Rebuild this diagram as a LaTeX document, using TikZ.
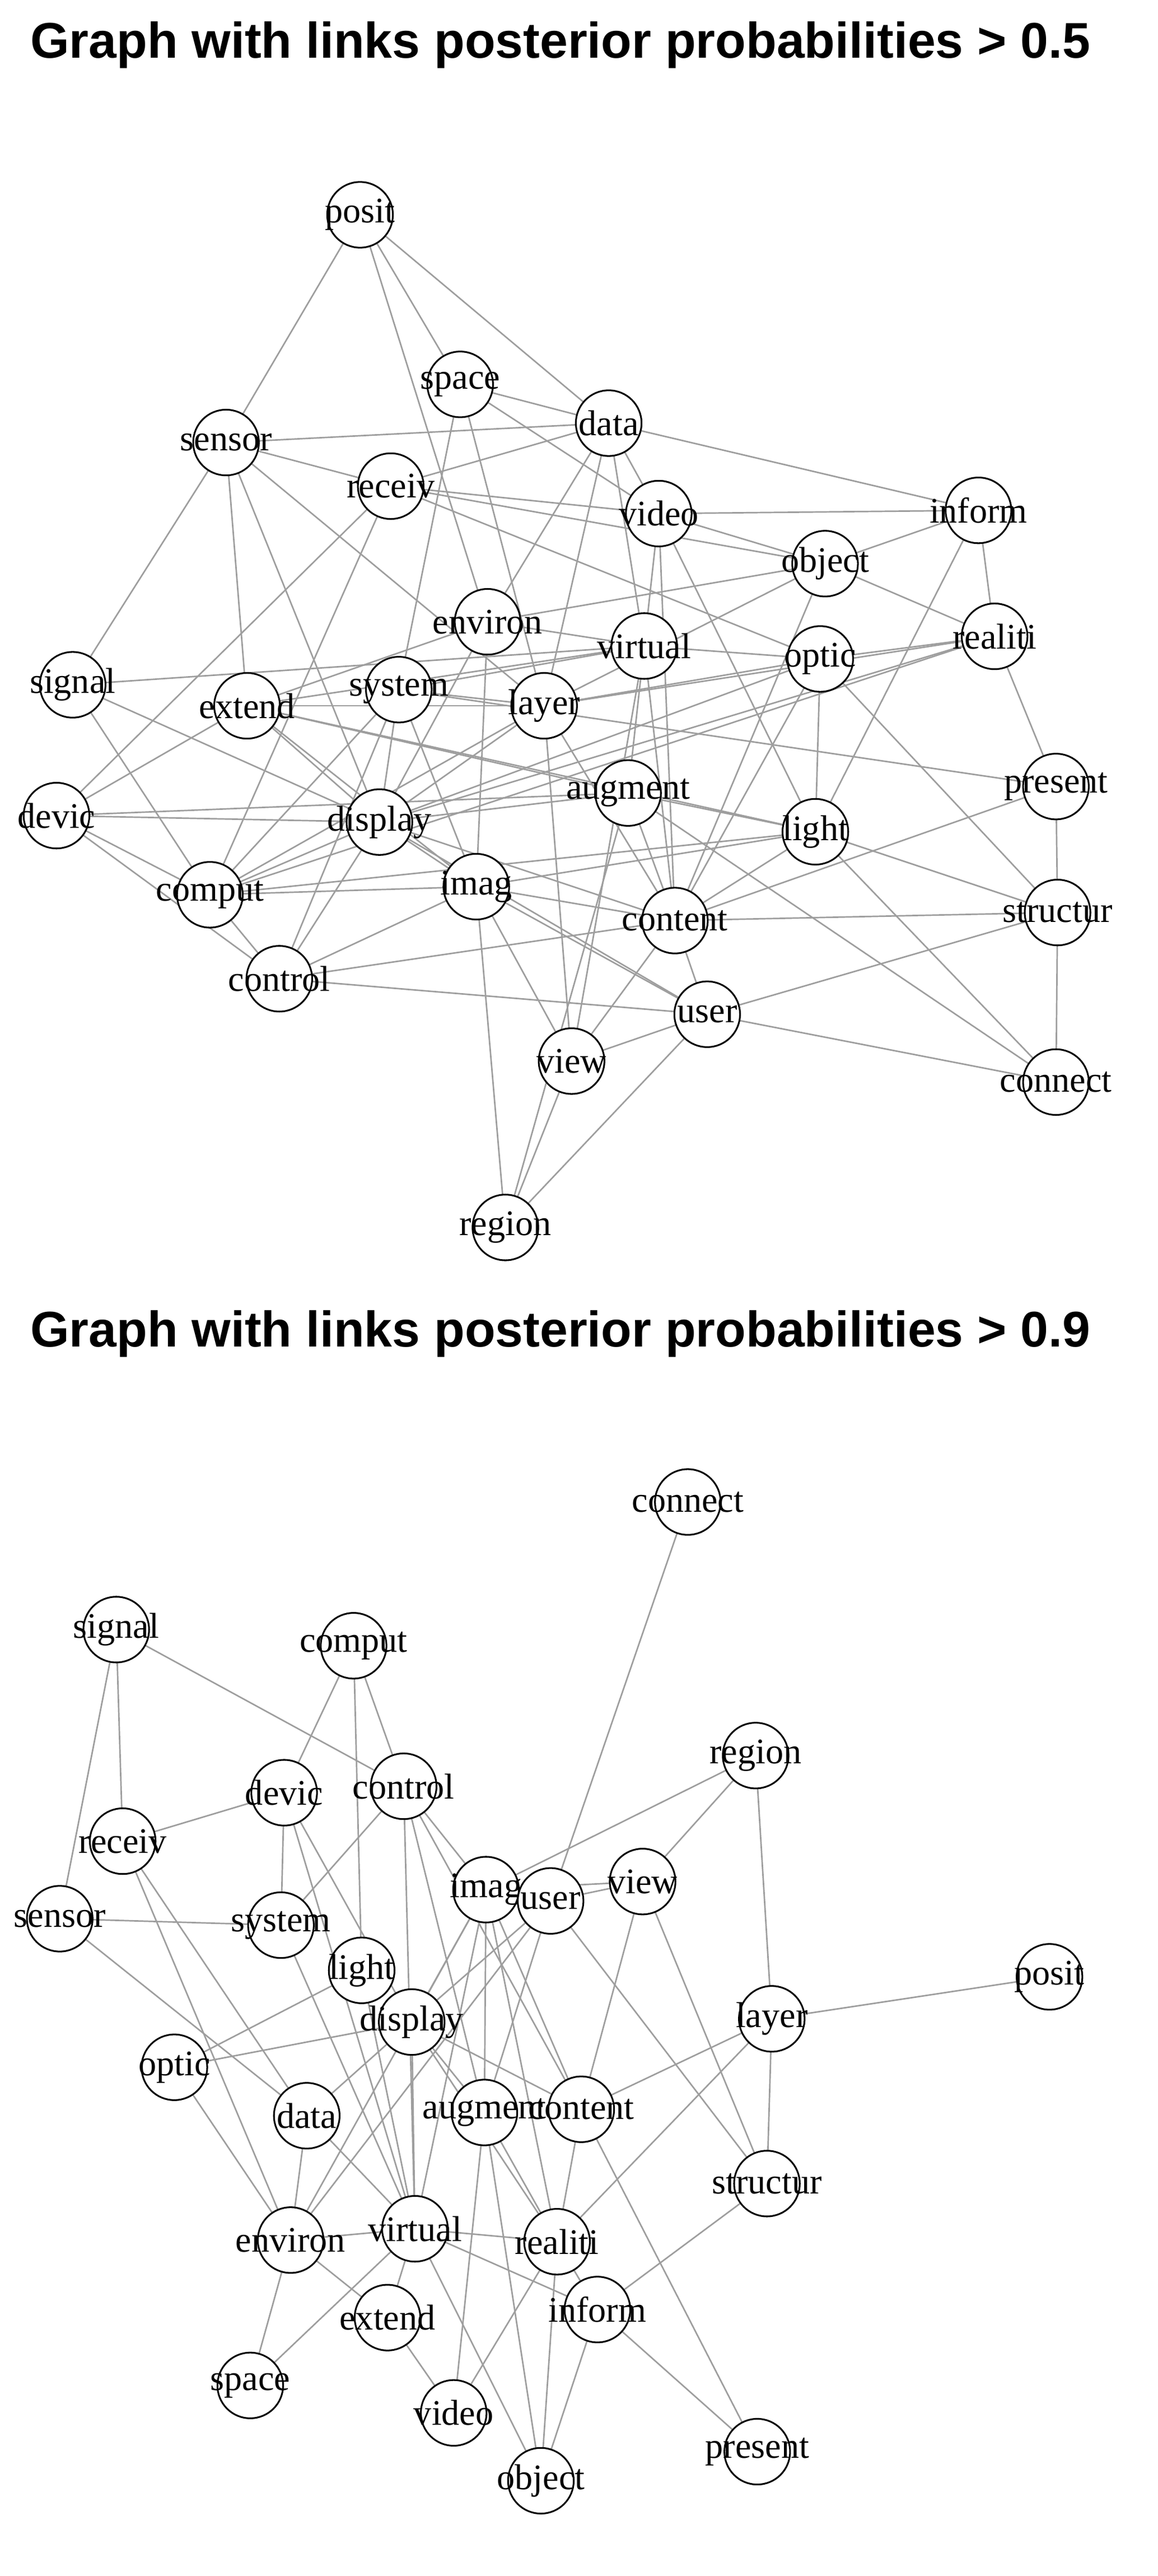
\documentclass[tikz,border=0pt]{standalone}
\usepackage{fontspec}
\setmainfont{Liberation Serif}
\newfontfamily\ttl{Liberation Sans}
\begin{document}
\begin{tikzpicture}[x=0.03cm,y=-0.03cm,
  vtx/.style={circle,draw=black,line width=0.9pt,fill=white,minimum size=1.22cm,inner sep=0pt,font=\fontsize{19}{19}\selectfont},
  lnk/.style={draw=black!38,line width=0.8pt},
  ttlstyle/.style={font=\ttl\bfseries\fontsize{26.5}{26.5}\selectfont}]
\useasboundingbox (0,0) rectangle (717,1595);
\node[ttlstyle] (t1) at (347,28) {Graph with links posterior probabilities > 0.5};
\node[ttlstyle] (t2) at (347,826) {Graph with links posterior probabilities > 0.9};
% top graph nodes
\foreach \n/\x/\y in {posit/223/133,space/285/238,data/377/262,sensor/140/274,receiv/242/301,video/408/318,inform/606/316,object/511/349,environ/302/385,virtual/399/400,optic/508/408,realiti/616/394,signal/45/424,extend/153/437,system/247/427,layer/337/437,augment/389/491,present/654/487,devic/35/505,display/235/509,light/505/515,imag/295/549,comput/130/554,content/418/570,structur/655/565,control/173/606,user/438/628,view/354/657,connect/654/670,region/313/760}
  \coordinate (a\n) at (\x,\y);
\foreach \p/\q in {posit/sensor,posit/space,posit/data,posit/environ,space/data,space/video,space/system,space/layer,sensor/data,sensor/receiv,sensor/signal,sensor/extend,sensor/display,sensor/layer,data/inform,data/receiv,data/video,data/environ,data/virtual,data/layer,receiv/video,receiv/object,receiv/optic,receiv/devic,receiv/comput,video/inform,video/object,video/virtual,video/light,video/content,inform/object,inform/realiti,inform/light,object/environ,object/realiti,object/layer,object/content,environ/virtual,environ/extend,environ/display,environ/imag,virtual/optic,virtual/system,virtual/extend,virtual/augment,virtual/content,virtual/view,optic/realiti,optic/light,optic/display,optic/layer,optic/content,optic/structur,realiti/layer,realiti/display,realiti/present,realiti/comput,signal/display,signal/comput,signal/virtual,extend/devic,extend/layer,extend/augment,extend/light,extend/display,extend/imag,system/layer,system/display,system/comput,system/present,system/control,system/imag,layer/display,layer/comput,layer/view,layer/content,augment/display,augment/light,augment/content,augment/devic,augment/region,augment/connect,present/content,present/structur,devic/display,devic/comput,devic/control,display/comput,display/control,display/imag,display/content,display/user,light/comput,light/imag,light/structur,light/connect,light/content,imag/comput,imag/control,imag/region,imag/view,imag/content,imag/user,comput/control,content/structur,content/control,content/user,content/view,control/user,user/view,user/structur,user/connect,user/region,view/region,structur/connect}
  \draw[lnk] (a\p) -- (a\q);
\foreach \n/\x/\y in {posit/223/133,space/285/238,data/377/262,sensor/140/274,receiv/242/301,video/408/318,inform/606/316,object/511/349,environ/302/385,virtual/399/400,optic/508/408,realiti/616/394,signal/45/424,extend/153/437,system/247/427,layer/337/437,augment/389/491,present/654/487,devic/35/505,display/235/509,light/505/515,imag/295/549,comput/130/554,content/418/570,structur/655/565,control/173/606,user/438/628,view/354/657,connect/654/670,region/313/760}
  \node[vtx] (na\n) at (a\n) {\makebox[0pt]{\n}};
% bottom graph nodes
\foreach \n/\x/\y in {connect/426/930,signal/72/1009,comput/219/1019,region/468/1087,devic/176/1110,control/250/1106,receiv/76/1140,view/398/1165,imag/301/1170,sensor/37/1188,system/174/1192,user/341/1177,light/224/1220,posit/650/1224,display/255/1252,layer/478/1250,optic/108/1280,data/190/1310,augment/300/1308,content/360/1306,structur/475/1352,environ/180/1387,virtual/257/1380,realiti/345/1388,extend/240/1435,inform/370/1430,space/155/1477,video/281/1494,present/469/1518,object/335/1536}
  \coordinate (b\n) at (\x,\y);
\foreach \p/\q in {connect/user,signal/receiv,signal/sensor,signal/control,comput/devic,comput/light,comput/control,region/imag,region/view,region/layer,devic/receiv,devic/system,devic/display,devic/virtual,control/system,control/imag,control/augment,control/content,control/virtual,receiv/data,receiv/environ,view/imag,view/user,view/content,view/structur,imag/user,imag/display,imag/virtual,imag/augment,imag/environ,imag/content,imag/realiti,sensor/system,sensor/data,system/virtual,user/display,user/augment,user/structur,user/environ,light/optic,light/virtual,display/optic,display/content,display/augment,display/virtual,display/data,display/realiti,layer/posit,layer/content,layer/structur,layer/realiti,optic/environ,data/environ,data/virtual,augment/realiti,augment/object,augment/video,content/realiti,content/present,structur/inform,environ/virtual,environ/space,environ/extend,virtual/realiti,virtual/space,virtual/extend,virtual/inform,virtual/object,realiti/inform,realiti/object,realiti/video,extend/video,inform/present,inform/object}
  \draw[lnk] (b\p) -- (b\q);
\foreach \n/\x/\y in {connect/426/930,signal/72/1009,comput/219/1019,region/468/1087,devic/176/1110,control/250/1106,receiv/76/1140,view/398/1165,imag/301/1170,sensor/37/1188,system/174/1192,user/341/1177,light/224/1220,posit/650/1224,display/255/1252,layer/478/1250,optic/108/1280,data/190/1310,augment/300/1308,content/360/1306,structur/475/1352,environ/180/1387,virtual/257/1380,realiti/345/1388,extend/240/1435,inform/370/1430,space/155/1477,video/281/1494,present/469/1518,object/335/1536}
  \node[vtx] (nb\n) at (b\n) {\makebox[0pt]{\n}};
\end{tikzpicture}
\end{document}
